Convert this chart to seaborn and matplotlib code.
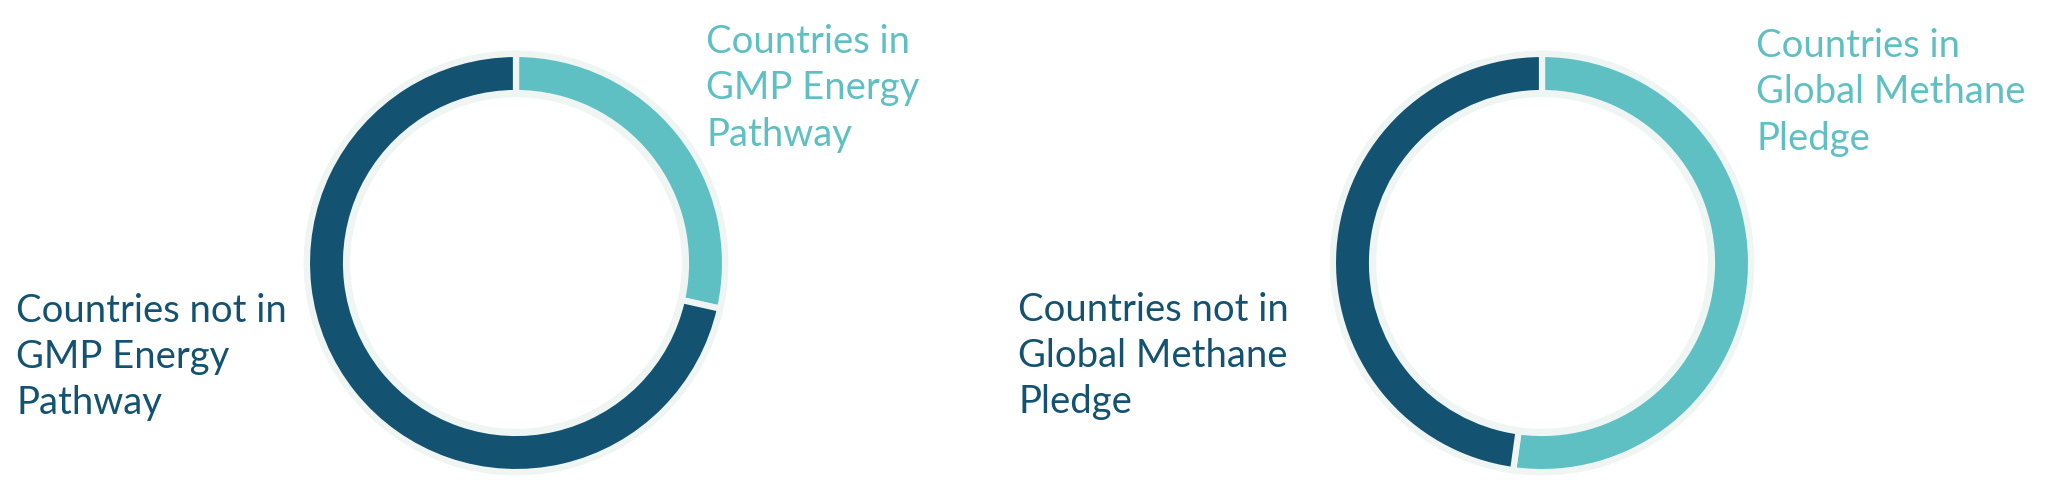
import matplotlib.pyplot as plt
import seaborn as sns

# share of countries in / not in each group (percent)
groups = ["GMP Energy Pathway", "Global Methane Pledge"]
share_in = [28.5, 52.2]
share_out = [71.5, 47.8]
labels_in = ["Countries in\nGMP Energy\nPathway", "Countries in\nGlobal Methane\nPledge"]
labels_out = ["Countries not in\nGMP Energy\nPathway", "Countries not in\nGlobal Methane\nPledge"]

TEAL = "#5fc0c4"
NAVY = "#135270"
RIM = "#eef5f3"

sns.set_theme(style="white")
plt.rcParams["font.family"] = ["Lato", "DejaVu Sans"]

W, H = 2048, 504
fig = plt.figure(figsize=(W / 100, H / 100), dpi=100)

# donut centres / label anchors in pixels (layout only)
centres = [(516, 263), (1542, 263)]
radius_px = 206
# anchors are the baseline of the last line of each label
in_pos = [(706, 146), (1756, 150)]
out_pos = [(16, 414), (1018, 413)]


def donut(cx, cy, vals):
    span = 2.2
    w = span * radius_px / W
    h = span * radius_px / H
    ax = fig.add_axes([cx / W - w / 2, 1 - cy / H - h / 2, w, h])
    # pale rim behind the ring
    ax.pie([1], radius=1.03, colors=[RIM], startangle=90,
           wedgeprops=dict(width=1.03 - 0.805, linewidth=0))
    ax.pie(vals, radius=1.015, colors=[TEAL, NAVY], startangle=90,
           counterclock=False,
           wedgeprops=dict(width=0.19, edgecolor=RIM, linewidth=4.5))
    ax.set_xlim(-1.1, 1.1)
    ax.set_ylim(-1.1, 1.1)
    ax.set_aspect("equal")
    ax.axis("off")


for i in range(len(groups)):
    cx, cy = centres[i]
    donut(cx, cy, [share_in[i], share_out[i]])
    x, y = in_pos[i]
    fig.text(x / W, 1 - y / H, labels_in[i], color=TEAL, fontsize=27.5,
             ha="left", va="baseline", linespacing=1.37)
    x, y = out_pos[i]
    fig.text(x / W, 1 - y / H, labels_out[i], color=NAVY, fontsize=27.5,
             ha="left", va="baseline", linespacing=1.34)

fig.savefig("out.png", dpi=100, facecolor="white")
